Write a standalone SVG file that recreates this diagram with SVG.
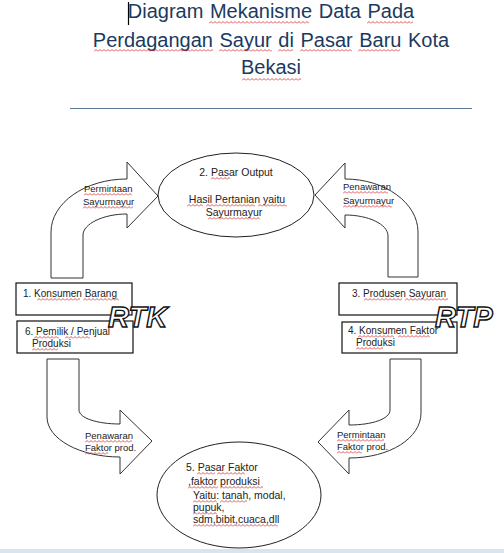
<svg xmlns="http://www.w3.org/2000/svg" width="504" height="553" viewBox="0 0 504 553">
<style>
.title{font-family:"Liberation Sans",Arial,sans-serif;font-size:20px;fill:#1b3a5e;text-anchor:middle;word-spacing:1px}
.t{font-family:"Liberation Sans",Arial,sans-serif;font-size:10.5px;fill:#222}
.tb{font-family:"Liberation Sans",Arial,sans-serif;font-size:10px;fill:#222}
.lb{font-family:"Liberation Sans",Arial,sans-serif;font-size:9.5px;fill:#222}
.big{font-family:"Liberation Sans",Arial,sans-serif;font-size:29px;font-weight:bold;font-style:italic;fill:#fff;stroke:#111;stroke-width:1.4}
.arrow{fill:#fff;stroke:#333;stroke-width:1}
.box{fill:#fff;stroke:#111;stroke-width:1.2}
.ell{fill:#fff;stroke:#222;stroke-width:1}
.sq{fill:url(#w)}
</style>
<defs>
<pattern id="w" width="4" height="3" patternUnits="userSpaceOnUse">
<path d="M0,2.5 L2,0.5 L4,2.5" fill="none" stroke="#d42a2a" stroke-width="0.8"/>
</pattern>
</defs>
<rect width="504" height="553" fill="#fff"/>
<rect x="0" y="549" width="504" height="4" fill="#d9e4ef"/>

<g id="title">
<text class="title" x="271" y="18">Diagram Mekanisme Data Pada</text>
<text class="title" x="271" y="47">Perdagangan Sayur di Pasar Baru Kota</text>
<text class="title" x="271" y="74">Bekasi</text>
<line x1="128.5" y1="2" x2="128.5" y2="25" stroke="#000" stroke-width="1.2"/>
<rect class="sq" transform="translate(209,21)" width="100" height="3"/>
<rect class="sq" transform="translate(367,21)" width="46" height="3"/>
<rect class="sq" transform="translate(94,49)" width="119" height="3"/>
<rect class="sq" transform="translate(219,49)" width="53" height="3"/>
<rect class="sq" transform="translate(278,49)" width="15" height="3"/>
<rect class="sq" transform="translate(300,49)" width="52" height="3"/>
<rect class="sq" transform="translate(358,49)" width="42" height="3"/>
<rect class="sq" transform="translate(242,78)" width="59" height="3"/>
</g>
<line x1="70" y1="108.5" x2="472" y2="108.5" stroke="#5b7898" stroke-width="1"/>

<g id="connectors">
<path class="arrow" d="M51,278 L51,232 C51,203 85,179 127,179 L127,162 L158,196 L127,228 L127,214 C103,214 83,224 83,235 L83,278 Z"/>
<path class="arrow" d="M418,277 L418,232 C418,203 385,179 345,179 L345,163 L315,195 L345,228 L345,215 C368,215 388,224 388,236 L388,277 Z"/>
<path class="arrow" d="M47,359 L79,359 L79,410 C79,418 97,424 120,424 L120,410 L152,441 L120,474 L120,457 C80,457 47,439 47,417 Z"/>
<path class="arrow" d="M390,359 L421,359 L421,413 C421,438 390,458 349,458 L349,474 L318,442 L349,410 L349,425 C372,425 390,419 390,410 Z"/>
<g id="lbl-permintaan-sayur">
<text class="lb" x="84" y="192">Permintaan</text>
<text class="lb" x="83" y="205">Sayurmayur</text>
<rect class="sq" transform="translate(84,193)" width="48" height="3"/>
<rect class="sq" transform="translate(83,206)" width="50" height="3"/>
</g>
<g id="lbl-penawaran-sayur">
<text class="lb" x="343" y="190">Penawaran</text>
<text class="lb" x="343" y="204">Sayurmayur</text>
<rect class="sq" transform="translate(343,191)" width="45" height="3"/>
<rect class="sq" transform="translate(343,205)" width="49" height="3"/>
</g>
<g id="lbl-penawaran-faktor">
<text class="lb" x="85" y="439">Penawaran</text>
<text class="lb" x="85" y="451">Faktor prod.</text>
<rect class="sq" transform="translate(85,440)" width="47" height="3"/>
<rect class="sq" transform="translate(85,452)" width="23" height="3"/>
</g>
<g id="lbl-permintaan-faktor">
<text class="lb" x="337" y="438">Permintaan</text>
<text class="lb" x="337" y="450">Faktor prod.</text>
<rect class="sq" transform="translate(337,439)" width="47" height="3"/>
<rect class="sq" transform="translate(337,451)" width="25" height="3"/>
</g>
</g>

<g id="pasar-output">
<ellipse class="ell" cx="236" cy="195" rx="78" ry="42"/>
<text class="t" x="236" y="176" text-anchor="middle">2. Pasar Output</text>
<text class="t" x="237" y="203" text-anchor="middle">Hasil Pertanian yaitu</text>
<text class="t" x="234" y="216" text-anchor="middle">Sayurmayur</text>
<rect class="sq" transform="translate(211,177)" width="19" height="3"/>
<rect class="sq" transform="translate(187,204)" width="16" height="3"/>
<rect class="sq" transform="translate(206,204)" width="49" height="3"/>
<rect class="sq" transform="translate(258,204)" width="29" height="3"/>
<rect class="sq" transform="translate(208,217)" width="52" height="3"/>
</g>

<g id="konsumen-barang">
<rect class="box" x="16" y="283" width="116" height="32"/>
<text class="tb" x="23" y="297">1.  Konsumen Barang</text>
<rect class="sq" transform="translate(37,298)" width="43" height="3"/>
<rect class="sq" transform="translate(83,298)" width="36" height="3"/>
</g>
<g id="pemilik-penjual">
<rect class="box" x="17" y="321" width="116" height="32"/>
<text class="tb" x="25" y="335">6. Pemilik / Penjual</text>
<text class="tb" x="32" y="347">Produksi</text>
<rect class="sq" transform="translate(34,336)" width="25" height="3"/>
<rect class="sq" transform="translate(65,336)" width="25" height="3"/>
<rect class="sq" transform="translate(32,348)" width="26" height="3"/>
</g>
<g id="rtk"><text class="big" x="108" y="327">RTK</text></g>

<g id="produsen-sayuran">
<rect class="box" x="339" y="283" width="118" height="32"/>
<text class="tb" x="352" y="297">3. Produsen Sayuran</text>
<rect class="sq" transform="translate(364,298)" width="38" height="3"/>
<rect class="sq" transform="translate(405,298)" width="43" height="3"/>
</g>
<g id="konsumen-faktor">
<rect class="box" x="342" y="322" width="115" height="31"/>
<text class="tb" x="348" y="334">4. Konsumen Faktor</text>
<text class="tb" x="356" y="346">Produksi</text>
<rect class="sq" transform="translate(358,335)" width="36" height="3"/>
<rect class="sq" transform="translate(398,335)" width="32" height="3"/>
<rect class="sq" transform="translate(356,347)" width="27" height="3"/>
</g>
<g id="rtp"><text class="big" x="435" y="327">RTP</text></g>

<g id="pasar-faktor">
<ellipse class="ell" cx="239" cy="495" rx="82" ry="53"/>
<text class="t" x="186" y="471">5. Pasar Faktor</text>
<text class="t" x="188" y="485">,faktor produksi</text>
<text class="t" x="193" y="499">Yaitu: tanah, modal,</text>
<text class="t" x="193" y="511">pupuk,</text>
<text class="t" x="193" y="523">sdm,bibit,cuaca,dll</text>
<rect class="sq" transform="translate(197,472)" width="18" height="3"/>
<rect class="sq" transform="translate(217,472)" width="28" height="3"/>
<rect class="sq" transform="translate(188,486)" width="30" height="3"/>
<rect class="sq" transform="translate(220,486)" width="43" height="3"/>
<rect class="sq" transform="translate(193,500)" width="24" height="3"/>
<rect class="sq" transform="translate(220,500)" width="27" height="3"/>
<rect class="sq" transform="translate(193,512)" width="24" height="3"/>
<rect class="sq" transform="translate(193,524)" width="85" height="3"/>
</g>
</svg>
